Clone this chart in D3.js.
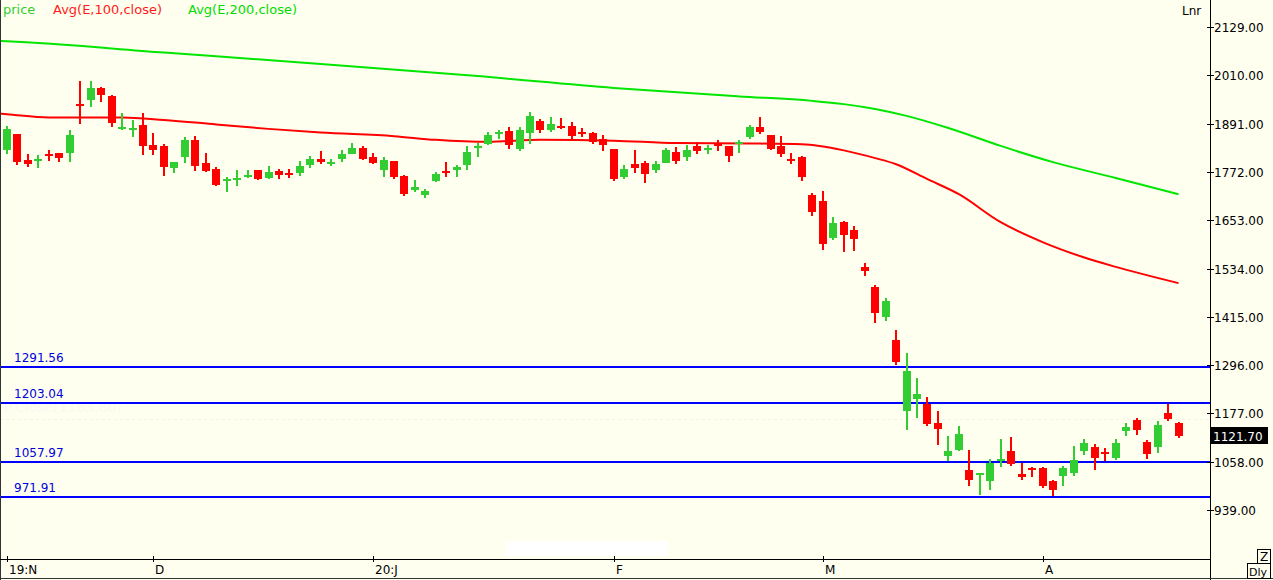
<!DOCTYPE html>
<html lang="en">
	<head>
		<meta charset="utf-8">
		<title>Daily candles with EMA 100 / 200</title>
		<script type="text/javascript" src="https://cdnjs.cloudflare.com/ajax/libs/d3/7.8.5/d3.min.js"></script>
		<style type="text/css">
			body { margin: 0; background: #fffff0; }
			text { font-family: "DejaVu Sans", Verdana, sans-serif; }
		</style>
	</head>
	<body>
		<script type="text/javascript">
		//OHLC, one value per trading day (19:N .. A)
		var opens = [1826,1865,1801,1800,1815,1818,1819,1940,1950,1979,1959,1878,1876,1888,1838,1836,1782,1809,1851,1794,
			1779,1750,1754,1759,1777,1758,1774,1769,1770,1789,1804,1796,1804,1816,1831,1809,1777,1799,1762,1727,
			1716,1750,1775,1777,1789,1832,1842,1864,1872,1829,1869,1897,1874,1886,1885,1870,1868,1853,1828,1760,
			1791,1793,1775,1795,1821,1809,1836,1830,1842,1836,1843,1859,1883,1863,1836,1805,1809,1715,1700,1610,
			1649,1629,1537,1488,1415,1358,1183,1212,1201,1153,1072,1087,1038,1028,1010,1063,1084,1028,1042,1042,
			1010,1023,1030,1084,1094,1082,1067,1134,1161,1107,1093,1178,1153];
		var highs = [1885,1866,1816,1813,1826,1819,1875,1996,1996,1982,1961,1916,1899,1916,1868,1841,1797,1859,1860,1819,
			1783,1760,1777,1777,1777,1787,1779,1778,1800,1811,1824,1805,1826,1842,1836,1819,1809,1799,1764,1752,
			1729,1772,1796,1789,1836,1842,1870,1875,1882,1882,1920,1902,1907,1904,1894,1880,1870,1863,1828,1789,
			1826,1799,1799,1831,1833,1838,1845,1839,1851,1836,1851,1888,1907,1863,1860,1819,1811,1719,1725,1661,
			1651,1639,1548,1493,1462,1382,1326,1264,1217,1183,1121,1146,1087,1031,1065,1114,1119,1055,1045,1045,
			1013,1047,1097,1114,1102,1092,1114,1153,1166,1111,1158,1200,1156];
		var lows = [1816,1789,1785,1780,1800,1796,1796,1889,1933,1945,1881,1873,1856,1812,1814,1762,1770,1796,1775,1772,
			1735,1723,1737,1758,1752,1755,1755,1756,1764,1782,1791,1787,1797,1814,1801,1791,1760,1755,1713,1722,
			1706,1747,1760,1760,1777,1807,1837,1854,1829,1824,1842,1867,1871,1877,1853,1859,1840,1824,1750,1755,
			1769,1745,1770,1795,1791,1799,1816,1816,1824,1797,1819,1853,1866,1826,1809,1791,1750,1662,1580,1604,
			1575,1578,1516,1400,1405,1295,1136,1166,1146,1099,1060,1084,998,976,988,1045,1047,1013,1020,993,
			974,998,1023,1075,1038,1060,1062,1122,1125,1065,1080,1157,1116];
		var closes = [1878,1795,1791,1803,1813,1805,1863,1937,1979,1962,1892,1882,1880,1837,1826,1785,1796,1851,1787,1775,
			1740,1754,1758,1764,1755,1772,1765,1767,1787,1804,1796,1797,1816,1831,1804,1795,1802,1759,1718,1735,
			1726,1767,1770,1784,1821,1835,1863,1870,1837,1875,1910,1874,1890,1884,1861,1869,1846,1837,1755,1779,
			1782,1765,1791,1826,1799,1826,1824,1832,1834,1812,1846,1883,1870,1829,1817,1802,1760,1672,1595,1646,
			1617,1607,1526,1425,1454,1304,1281,1225,1151,1139,1084,1126,1013,1030,1055,1065,1052,1020,1040,998,
			987,1042,1062,1104,1067,1078,1104,1144,1137,1078,1148,1163.8,1121.7];

		//Moving averages read at some candle positions
		var emaIdx = [-1,0,4,11,15,20,25,30,37,41,46,51,58,64,71,76,80,83,85,88,91,95,99,103,106,112];
		var ema100 = [1916,1914,1906,1906,1900,1889,1878,1869,1860,1851,1846,1851,1849,1843,1842,1840,1825,1806,1791,1754,1717,1648,1599,1561,1538,1498];
		var ema200Idx = [-1,0,15,30,45,58,70,77,80,83,86,90,95,100,106,112];
		var ema200 = [2095,2094,2066,2038,2008,1979,1958,1947,1939,1927,1910,1880,1836,1796,1757,1717];

		//Horizontal levels
		var levels = [1291.56, 1203.04, 1057.97, 971.91];
		var prevClose = 1163.80;

		//Axis ticks
		var yTicks = [2129, 2010, 1891, 1772, 1653, 1534, 1415, 1296, 1177, 1058, 939];
		var xTickIdx = [0, 14, 35, 58, 78, 99];
		var xTickLabels = ["19:N", "D", "20:J", "F", "M", "A"];

		var w = 1273, h = 580;
		var plotRight = 1210, plotBottom = 559;
		var up = "#32cd32", down = "#ff0000";

		var x = d3.scaleLinear().domain([0, 112]).range([7, 7 + 112 * 10.46]);
		var y = d3.scaleLinear().domain([939, 2129]).range([510, 27]);

		var svg = d3.select("body").append("svg")
			.attr("width", w)
			.attr("height", h)
			.style("display", "block");

		svg.append("rect").attr("width", w).attr("height", h).attr("fill", "#fffff0");

		svg.append("clipPath").attr("id", "plot")
			.append("rect").attr("x", 1).attr("y", 0).attr("width", plotRight - 1).attr("height", plotBottom);

		//faint white patch near the bottom
		svg.append("rect").attr("x", 506).attr("y", 541).attr("width", 162).attr("height", 15).attr("fill", "#ffffff");

		var plot = svg.append("g").attr("clip-path", "url(#plot)");

		//previous close (barely visible)
		plot.append("line")
			.attr("x1", 0).attr("x2", plotRight)
			.attr("y1", Math.round(y(prevClose)) + 0.5).attr("y2", Math.round(y(prevClose)) + 0.5)
			.attr("stroke", "#f3f3e6").attr("stroke-dasharray", "3,3");
		plot.append("text")
			.attr("x", 4).attr("y", 412)
			.attr("font-size", 14)
			.attr("fill", "#f9f9ee")
			.text("P.Close(" + prevClose.toFixed(2) + ")");

		//level lines
		plot.selectAll("line.level")
			.data(levels)
			.enter().append("line")
			.attr("class", "level")
			.attr("x1", 0).attr("x2", plotRight)
			.attr("y1", function(d) { return Math.round(y(d)); })
			.attr("y2", function(d) { return Math.round(y(d)); })
			.attr("stroke", "#0000ff")
			.attr("stroke-width", 2);

		plot.selectAll("text.level")
			.data(levels)
			.enter().append("text")
			.attr("class", "level")
			.attr("x", 14)
			.attr("y", function(d) { return Math.round(y(d)) - 5; })
			.attr("font-size", 12)
			.attr("fill", "#0000dd")
			.text(function(d) { return d.toFixed(2); });

		//EMA lines
		var line = d3.line().curve(d3.curveMonotoneX);
		plot.append("path")
			.attr("d", line(emaIdx.map(function(d, i) { return [x(d), y(ema100[i])]; })))
			.attr("fill", "none").attr("stroke", "#ff0000").attr("stroke-width", 2);
		plot.append("path")
			.attr("d", line(ema200Idx.map(function(d, i) { return [x(d), y(ema200[i])]; })))
			.attr("fill", "none").attr("stroke", "#00e600").attr("stroke-width", 2);

		//candles
		var candles = plot.selectAll("g.candle")
			.data(d3.range(opens.length))
			.enter().append("g")
			.attr("class", "candle")
			.attr("fill", function(i) { return closes[i] >= opens[i] ? up : down; });

		candles.append("rect")
			.attr("x", function(i) { return Math.round(x(i)) - 1; })
			.attr("width", 2)
			.attr("y", function(i) { return Math.round(y(highs[i])); })
			.attr("height", function(i) { return Math.max(1, Math.round(y(lows[i]) - y(highs[i]))); });

		candles.append("rect")
			.attr("x", function(i) { return Math.round(x(i)) - 4; })
			.attr("width", 8)
			.attr("y", function(i) { return Math.round(y(Math.max(opens[i], closes[i]))); })
			.attr("height", function(i) { return Math.max(2, Math.round(Math.abs(y(opens[i]) - y(closes[i])))); });

		//legend
		var legend = [["price", 3, up], ["Avg(E,100,close)", 53, "#ff1a1a"], ["Avg(E,200,close)", 188, "#00dd00"]];
		svg.selectAll("text.legend")
			.data(legend)
			.enter().append("text")
			.attr("class", "legend")
			.attr("x", function(d) { return d[1]; })
			.attr("y", 14)
			.attr("font-size", 13)
			.attr("fill", function(d) { return d[2]; })
			.text(function(d) { return d[0]; });

		//frame
		svg.append("line").attr("x1", 0.5).attr("x2", 0.5).attr("y1", 0).attr("y2", h).attr("stroke", "#333").attr("stroke-width", 1);
		svg.append("line").attr("x1", plotRight + 0.5).attr("x2", plotRight + 0.5).attr("y1", 0).attr("y2", h).attr("stroke", "#000");
		svg.append("line").attr("x1", 0).attr("x2", plotRight).attr("y1", plotBottom + 0.5).attr("y2", plotBottom + 0.5).attr("stroke", "#000");
		svg.append("line").attr("x1", 0).attr("x2", w).attr("y1", h - 1.5).attr("y2", h - 1.5).attr("stroke", "#333");

		//y axis
		var yAxis = svg.append("g");
		yAxis.selectAll("line")
			.data(yTicks)
			.enter().append("line")
			.attr("x1", plotRight - 3).attr("x2", plotRight + 4)
			.attr("y1", function(d) { return Math.round(y(d)) + 0.5; })
			.attr("y2", function(d) { return Math.round(y(d)) + 0.5; })
			.attr("stroke", "#000");
		yAxis.selectAll("text")
			.data(yTicks)
			.enter().append("text")
			.attr("x", plotRight + 4)
			.attr("y", function(d) { return Math.round(y(d)) + 5; })
			.attr("font-size", 12)
			.attr("fill", "#000")
			.text(function(d) { return d.toFixed(2); });

		svg.append("text").attr("x", 1182).attr("y", 15).attr("font-size", 12).attr("fill", "#000").text("Lnr");

		//last price tag
		var last = closes[closes.length - 1];
		svg.append("rect").attr("x", plotRight + 1).attr("y", Math.round(y(last)) - 9).attr("width", 57).attr("height", 17).attr("fill", "#000");
		svg.append("text").attr("x", plotRight + 3).attr("y", Math.round(y(last)) + 5)
			.attr("font-size", 12).attr("fill", "#fff").text(last.toFixed(2));

		//x axis
		var xAxis = svg.append("g");
		xAxis.selectAll("line")
			.data(xTickIdx)
			.enter().append("line")
			.attr("x1", function(d) { return Math.round(x(d)) + 0.5; })
			.attr("x2", function(d) { return Math.round(x(d)) + 0.5; })
			.attr("y1", plotBottom - 3).attr("y2", plotBottom + 3)
			.attr("stroke", "#000");
		xAxis.selectAll("text")
			.data(xTickIdx)
			.enter().append("text")
			.attr("x", function(d) { return Math.round(x(d)) + 2; })
			.attr("y", 574)
			.attr("font-size", 12)
			.attr("fill", "#000")
			.text(function(d, i) { return xTickLabels[i]; });

		//Z / Dly boxes
		svg.append("rect").attr("x", 1257.5).attr("y", 549.5).attr("width", 13).attr("height", 14).attr("fill", "#fffff0").attr("stroke", "#000");
		svg.append("text").attr("x", 1260).attr("y", 561).attr("font-size", 12).attr("fill", "#000").text("Z");
		svg.append("rect").attr("x", 1247.5).attr("y", 563.5).attr("width", 23).attr("height", 15).attr("fill", "#fffff0").attr("stroke", "#000");
		svg.append("text").attr("x", 1249).attr("y", 576).attr("font-size", 11).attr("fill", "#000").text("Dly");
		</script>
	</body>
</html>
